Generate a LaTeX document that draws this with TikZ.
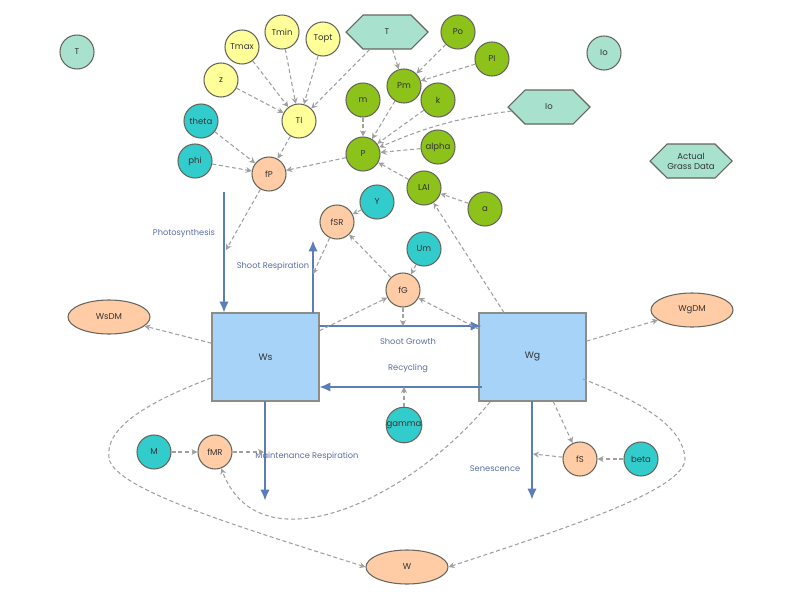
\documentclass[tikz,border=0pt]{standalone}
\usepackage{fontspec}
\setmainfont{Poppins}
\usetikzlibrary{shapes.geometric,shapes.symbols,arrows.meta}
\definecolor{cyel}{HTML}{FFFF99}
\definecolor{cgrn}{HTML}{8CC21A}
\definecolor{ccyan}{HTML}{33CCCC}
\definecolor{cpeach}{HTML}{FFCCA6}
\definecolor{cmint}{HTML}{A8E2CF}
\definecolor{cbox}{HTML}{A6D3F7}
\definecolor{cblue}{HTML}{5B7DBA}
\definecolor{cdash}{HTML}{A0A0A0}
\definecolor{cedge}{HTML}{66675E}
\definecolor{clabel}{HTML}{5A6FA0}
\definecolor{ctext}{HTML}{333333}
\tikzset{
  var/.style={circle, draw=cedge, line width=0.8pt, minimum size=25.5pt, inner sep=0pt, text=ctext, font=\fontsize{6.4}{7.5}\selectfont},
  yel/.style={var, fill=cyel},
  grn/.style={var, fill=cgrn},
  cyn/.style={var, fill=ccyan},
  pch/.style={var, fill=cpeach},
  mnt/.style={var, fill=cmint},
  hexa/.style={signal, signal to=east and west, signal pointer angle=90, draw=cedge, line width=0.8pt, fill=cmint, minimum width=61.5pt, minimum height=25.5pt, inner sep=0pt, text=ctext, font=\fontsize{6.4}{7.5}\selectfont},
  ell/.style={ellipse, draw=cedge, line width=0.8pt, fill=cpeach, minimum width=61.5pt, minimum height=25.5pt, inner sep=0pt, text=ctext, font=\fontsize{6.4}{7.5}\selectfont},
  stock/.style={rectangle, draw=cedge!75, line width=0.8pt, fill=cbox, minimum width=80.25pt, minimum height=66pt, inner sep=0pt, text=ctext, font=\fontsize{7}{8}\selectfont},
  dep/.style={draw=cdash, dash pattern=on 3pt off 2pt, line width=0.8pt, -{Stealth[length=4.5pt,width=4.5pt]}},
  flow/.style={draw=cblue, line width=2pt, -{Latex[length=8.5pt,width=7pt]}},
  lab/.style={text=clabel, font=\fontsize{6.2}{7}\selectfont, inner sep=0pt}
}
\begin{document}
\begin{tikzpicture}[x=0.75pt,y=-0.75pt]
\useasboundingbox (0,0) rectangle (800,600);
\fill[white] (0,0) rectangle (800,600);

% stand-alone nodes
\node[mnt] (Tc) at (77,52) {T};
\node[mnt] (Ioc) at (604,53) {Io};
\node[hexa] (Th) at (387,32) {T};
\node[hexa] (Ioh) at (549,107) {Io};
\node[hexa, align=center] (AGD) at (691,161) {Actual\\Grass Data};

% yellow
\node[yel] (Tmax) at (242,47) {Tmax};
\node[yel] (Tmin) at (282,32) {Tmin};
\node[yel] (Topt) at (323,39) {Topt};
\node[yel] (z) at (221,80) {z};
\node[yel] (TI) at (299,121) {TI};

% cyan
\node[cyn] (theta) at (201,121) {theta};
\node[cyn] (phi) at (195,161) {phi};
\node[cyn] (Y) at (377,202) {Y};
\node[cyn] (Um) at (424,249) {Um};
\node[cyn] (M) at (154,452) {M};
\node[cyn] (gamma) at (404,425) {gamma};
\node[cyn] (beta) at (641,459) {beta};

% peach
\node[pch] (fP) at (269,174) {fP};
\node[pch] (fSR) at (337,222) {fSR};
\node[pch] (fG) at (403,290) {fG};
\node[pch] (fMR) at (215,452) {fMR};
\node[pch] (fS) at (580,459) {fS};

% green
\node[grn] (Po) at (458,32) {Po};
\node[grn] (PI) at (492,59) {PI};
\node[grn] (Pm) at (404,86) {Pm};
\node[grn] (m) at (363,100) {m};
\node[grn] (k) at (438,100) {k};
\node[grn] (P) at (363,154) {P};
\node[grn] (alpha) at (438,147) {alpha};
\node[grn] (LAI) at (424,188) {LAI};
\node[grn] (a) at (485,209) {a};

% stocks
\node[stock] (Ws) at (265.5,357) {Ws};
\node[stock] (Wg) at (532.5,357) {Wg};

% ellipses
\node[ell] (WsDM) at (109,317) {WsDM};
\node[ell] (WgDM) at (692,310) {WgDM};
\node[ell] (W) at (407,567) {W};

% flow coordinates
\coordinate (phS) at (224,192);
\coordinate (phE) at (224,313);
\coordinate (srS) at (313,313);
\coordinate (srE) at (313,240);
\coordinate (sgS) at (319,326);
\coordinate (sgE) at (482,326);
\coordinate (rcS) at (482,387);
\coordinate (rcE) at (319,387);
\coordinate (mrS) at (265,401);
\coordinate (mrE) at (265,501);
\coordinate (seS) at (532,401);
\coordinate (seE) at (532,500);
% dashed targets on flows
\coordinate (phT) at (226,250);
\coordinate (srT) at (313,274);
\coordinate (sgT) at (403,326);
\coordinate (rcT) at (404,387);
\coordinate (mrT) at (264,452);
\coordinate (seT) at (533,454);
% curve start points
\coordinate (wgC) at (490,402);
\coordinate (wsC) at (211,378);
\coordinate (wgR) at (583,379);

% flows
\draw[flow] (phS) -- (phE);
\draw[flow] (srS) -- (srE);
\draw[flow] (sgS) -- (sgE);
\draw[flow] (rcS) -- (rcE);
\draw[flow] (mrS) -- (mrE);
\draw[flow] (seS) -- (seE);

% flow labels
\node[lab] (lph) at (184,233) {Photosynthesis};
\node[lab] (lsr) at (273,266) {Shoot Respiration};
\node[lab] (lsg) at (408,341) {Shoot Growth};
\node[lab] (lrc) at (408,368) {Recycling};
\node[lab] (lmr) at (307,456) {Maintenance Respiration};
\node[lab] (lse) at (495,469) {Senescence};

% dependencies
\draw[dep] (Tmax) -- (TI);
\draw[dep] (Tmin) -- (TI);
\draw[dep] (Topt) -- (TI);
\draw[dep] (z) -- (TI);
\draw[dep] (Th) -- (TI);
\draw[dep] (Th) -- (Pm);
\draw[dep] (Po) -- (Pm);
\draw[dep] (PI) -- (Pm);
\draw[dep] (m) -- (P);
\draw[dep] (Pm) -- (P);
\draw[dep] (k) -- (P);
\draw[dep] (Ioh) to[bend right=8] (P);
\draw[dep] (alpha) -- (P);
\draw[dep] (LAI) -- (P);
\draw[dep] (a) -- (LAI);
\draw[dep] (Wg) -- (LAI);
\draw[dep] (TI) -- (fP);
\draw[dep] (theta) -- (fP);
\draw[dep] (phi) -- (fP);
\draw[dep] (P) -- (fP);
\draw[dep] (fP) -- (phT);
\draw[dep] (Y) -- (fSR);
\draw[dep] (fSR) -- (srT);
\draw[dep] (fG) -- (fSR);
\draw[dep] (Um) -- (fG);
\draw[dep] (Ws) -- (fG);
\draw[dep] (Wg) -- (fG);
\draw[dep] (fG) -- (sgT);
\draw[dep] (gamma) -- (rcT);
\draw[dep] (Ws) -- (WsDM);
\draw[dep] (Wg) -- (WgDM);
\draw[dep] (M) -- (fMR);
\draw[dep] (fMR) -- (mrT);
\draw[dep] (Wg) -- (fS);
\draw[dep] (fS) -- (seT);
\draw[dep] (beta) -- (fS);
\draw[dep] (wgC) .. controls (410,500) and (260,570) .. (fMR);
\draw[dep] (wsC) .. controls (140,405) and (105,430) .. (109,458) .. controls (113,490) and (250,530) .. (W.west);
\draw[dep] (wgR) .. controls (650,405) and (683,430) .. (685,458) .. controls (687,490) and (560,530) .. (W.east);
\end{tikzpicture}
\end{document}
